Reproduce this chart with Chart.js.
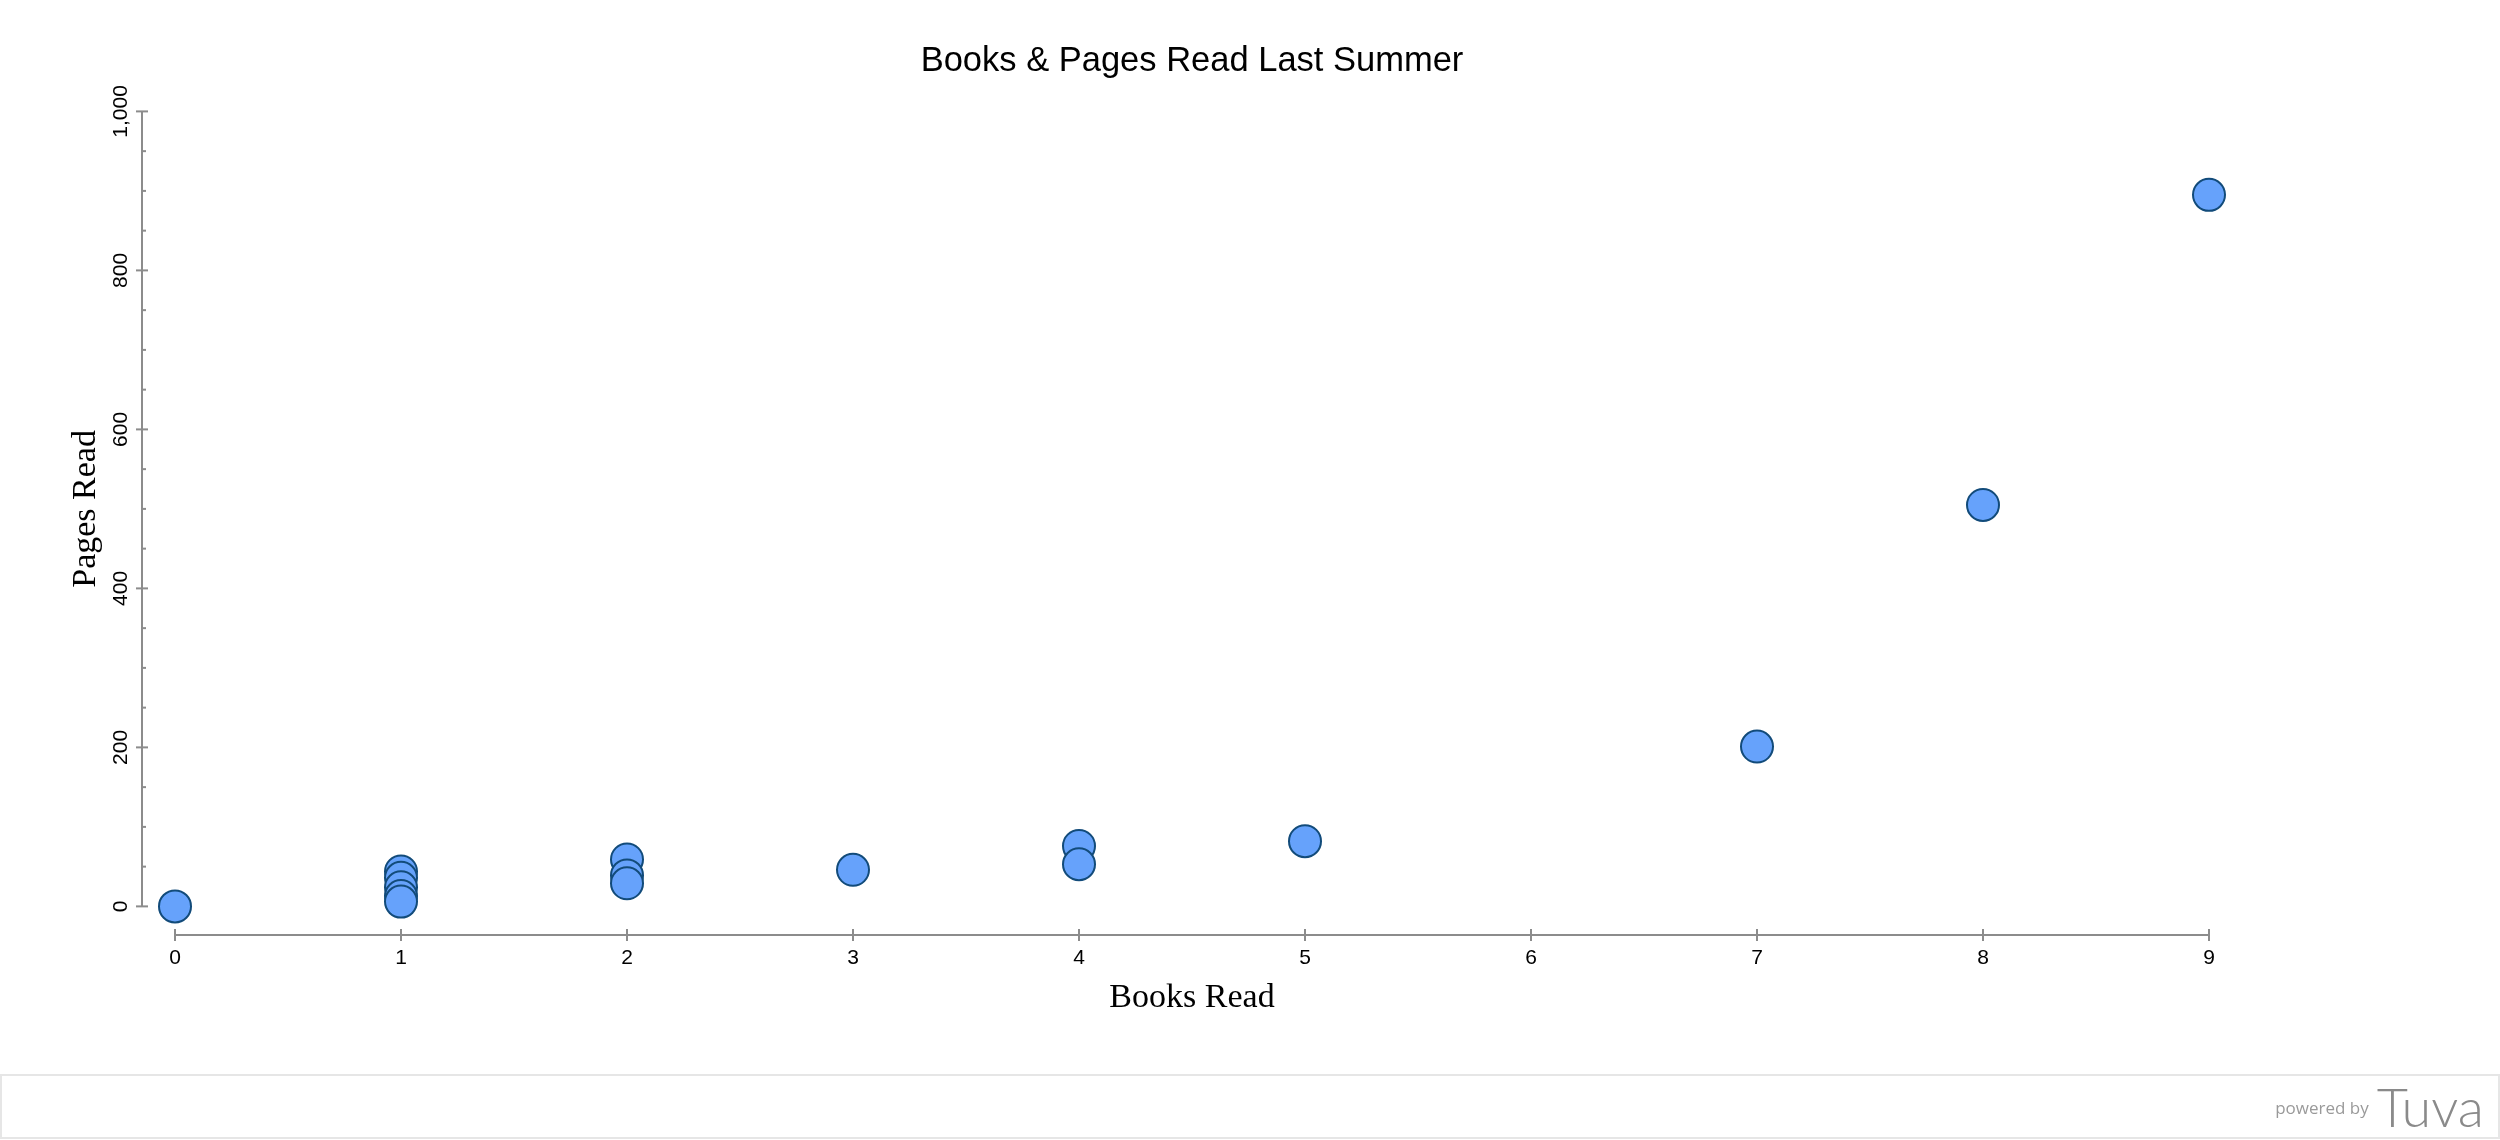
<!DOCTYPE html>
<html lang="en">
<head>
<meta charset="UTF-8">
<title>Books &amp; Pages Read Last Summer</title>
<script src="https://cdn.jsdelivr.net/npm/chart.js"></script>
<style>
  html, body { margin: 0; padding: 0; background: #fff; }
  #contenedor { position: relative; width: 2500px; height: 1140px; }
  #grafico { position: absolute; left: 0; top: 0; }
  .pie {
    position: absolute; left: 0; top: 1074px;
    width: 2496px; height: 61px;
    border: 2px solid #e6e6e6;
    display: flex; justify-content: flex-end; align-items: center;
    font-family: "Open Sans", "Liberation Sans", sans-serif;
    color: #9a9a9a;
  }
  .pie .powered { font-size: 17px; margin-right: 8px; margin-top: 2px; }
  .pie .tuva { font-family: Lato, "Open Sans", sans-serif; font-weight: 300; font-size: 54px; line-height: 1; margin-right: 14px; color: #8a8a8a; }
</style>
</head>
<body>
<div id="contenedor">
  <canvas id="grafico"></canvas>
  <div class="pie"><span class="powered">powered by</span><span class="tuva">Tuva</span></div>
</div>

<script>
  // datos
  const librosLeidos = [0, 1, 1, 1, 1, 1, 2, 2, 2, 3, 4, 4, 5, 7, 8, 9];
  const paginasLeidas = [0, 44, 36, 24, 13, 6, 59, 39, 29, 46, 76, 53, 82, 201, 505, 895];

  // marcas de los ejes
  const ticksX = [0, 1, 2, 3, 4, 5, 6, 7, 8, 9];
  const ticksY = [0, 200, 400, 600, 800, 1000];
  const ticksYMenores = [50, 100, 150, 250, 300, 350, 450, 500, 550, 650, 700, 750, 850, 900, 950];

  const tituloX = 'Books Read';
  const tituloY = 'Pages Read';

  // los ejes se dibujan separados del area (estilo d3), usando las escalas de Chart.js
  const SEPARACION_EJE_Y = 33;

  const ejesPlugin = {
    id: 'ejes',
    beforeDatasetsDraw(chart) {
      const ctx = chart.ctx;
      const sx = chart.scales.x;
      const sy = chart.scales.y;
      const area = chart.chartArea;
      ctx.save();
      ctx.strokeStyle = '#8c8c8c';
      ctx.lineWidth = 2;

      // eje Y
      const ex = area.left - SEPARACION_EJE_Y;
      ctx.beginPath();
      ctx.moveTo(ex, sy.getPixelForValue(ticksY[0]));
      ctx.lineTo(ex, sy.getPixelForValue(ticksY[ticksY.length - 1]));
      ctx.stroke();
      ticksY.forEach(v => {
        const py = sy.getPixelForValue(v);
        ctx.beginPath();
        ctx.moveTo(ex - 6, py);
        ctx.lineTo(ex + 6, py);
        ctx.stroke();
      });
      ticksYMenores.forEach(v => {
        const py = sy.getPixelForValue(v);
        ctx.beginPath();
        ctx.moveTo(ex, py);
        ctx.lineTo(ex + 4, py);
        ctx.stroke();
      });

      // eje X
      const ey = area.bottom;
      ctx.beginPath();
      ctx.moveTo(sx.getPixelForValue(ticksX[0]), ey);
      ctx.lineTo(sx.getPixelForValue(ticksX[ticksX.length - 1]), ey);
      ctx.stroke();
      ticksX.forEach(v => {
        const px = sx.getPixelForValue(v);
        ctx.beginPath();
        ctx.moveTo(px, ey - 6);
        ctx.lineTo(px, ey + 6);
        ctx.stroke();
      });

      // etiquetas
      ctx.fillStyle = '#000';
      ctx.font = '21px "Liberation Sans", Arial, sans-serif';
      ctx.textAlign = 'center';
      ctx.textBaseline = 'middle';
      ticksX.forEach(v => {
        ctx.fillText(String(v), sx.getPixelForValue(v), ey + 23);
      });
      ticksY.forEach(v => {
        ctx.save();
        ctx.translate(ex - 21, sy.getPixelForValue(v));
        ctx.rotate(-Math.PI / 2);
        ctx.fillText(v.toLocaleString('en-US'), 0, 0);
        ctx.restore();
      });

      // titulos de los ejes
      ctx.font = '34px "Liberation Serif", "Times New Roman", serif';
      ctx.textBaseline = 'alphabetic';
      const medioX = (sx.getPixelForValue(ticksX[0]) + sx.getPixelForValue(ticksX[ticksX.length - 1])) / 2;
      ctx.fillText(tituloX, medioX, ey + 72);
      const medioY = (sy.getPixelForValue(ticksY[0]) + sy.getPixelForValue(ticksY[ticksY.length - 1])) / 2;
      ctx.save();
      ctx.translate(ex - 47, medioY);
      ctx.rotate(-Math.PI / 2);
      ctx.fillText(tituloY, 0, 0);
      ctx.restore();

      ctx.restore();
    }
  };

  const puntos = librosLeidos.map((x, i) => ({ x: x, y: paginasLeidas[i] }));

  new Chart(document.getElementById('grafico'), {
    type: 'scatter',
    data: {
      datasets: [{
        label: 'Pages Read',
        data: puntos,
        backgroundColor: '#66a2fb',
        borderColor: '#124b7a',
        borderWidth: 2,
        pointRadius: 16,
        pointHoverRadius: 16,
        clip: false
      }]
    },
    options: {
      responsive: true,
      maintainAspectRatio: false,
      animation: false,
      layout: {
        padding: { left: 175, right: 291, top: 0, bottom: 205 }
      },
      plugins: {
        legend: { display: false },
        tooltip: { enabled: false },
        title: {
          display: true,
          text: 'Books & Pages Read Last Summer',
          color: '#000',
          font: { family: '"Liberation Sans", Arial, sans-serif', size: 34.5, weight: 'normal', lineHeight: 1.2 },
          padding: { top: 41, bottom: 29 }
        }
      },
      scales: {
        x: { type: 'linear', display: false, min: 0, max: 9 },
        y: { type: 'linear', display: false, min: -36, max: 1000 }
      }
    },
    plugins: [ejesPlugin]
  });
</script>
</body>
</html>
